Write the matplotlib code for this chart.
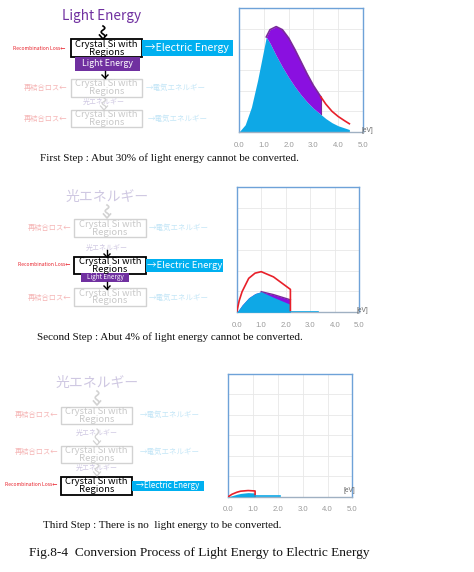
import matplotlib
matplotlib.use("Agg")
import matplotlib.pyplot as plt
import numpy as np

plt.rcParams['font.family'] = ['Noto Sans CJK JP', 'DejaVu Sans']

# ---- spectrum data (eV, relative value) ----
ev1 = [0, 0.25, 0.5, 0.75, 1.0, 1.1, 1.25, 1.5, 1.75, 2.0, 2.25, 2.5, 2.75, 3.0, 3.3, 3.5, 3.75, 4.0, 4.25, 4.45]
red1 = [0, 0.35, 1.2, 2.5, 4.0, 4.6, 4.95, 5.1, 4.95, 4.55, 4.0, 3.4, 2.8, 2.25, 1.7, 1.35, 1.0, 0.75, 0.55, 0.4]
blue1 = [0, 0.35, 1.2, 2.5, 4.0, 4.6, 4.3, 3.7, 3.15, 2.65, 2.2, 1.8, 1.45, 1.15, 0.85, 0.65, 0.45, 0.3, 0.2, 0.12]
gap1 = (1.1, 3.3)

ev2 = [0, 0.1, 0.22, 0.49, 0.75, 1.0, 1.5, 2.19]
red2 = [0, 0.55, 0.99, 1.63, 1.88, 1.95, 1.7, 1.1]
blue2 = [0, 0.15, 0.35, 0.7, 0.9, 0.99, 0.72, 0.38]
purple2 = [0, 0.15, 0.35, 0.7, 0.9, 0.99, 0.85, 0.6]
tail2 = [2.19, 3.3]

ev3 = [0, 0.15, 0.35, 0.5, 0.8, 1.08]
red3 = [0, 0.12, 0.22, 0.27, 0.3, 0.28]
blue3 = [0, 0.05, 0.12, 0.16, 0.2, 0.18]
tail3 = [1.08, 2.1]

xticks = [0, 1, 2, 3, 4, 5]
xticklabels = ["0.0", "1.0", "2.0", "3.0", "4.0", "5.0"]

captions = ["First Step : Abut 30% of light energy cannot be converted.",
            "Second Step : Abut 4% of light energy cannot be converted.",
            "Third Step : There is no  light energy to be converted."]
fig_title = "Fig.8-4  Conversion Process of Light Energy to Electric Energy"

RED = "#e8202a"
BLUE = "#0ea8e6"
PURPLE = "#8a10e0"
DPURPLE = "#7a2a9a"
BOXBLUE = "#00b0f0"
TITLEPURPLE = "#7030a0"
FADE_TXT = "#c9c9c9"
FADE_BOX = "#d2d2d2"
FADE_PINK = "#f5b5b5"
FADE_BLUE = "#c4e6f7"
FADE_LAV = "#cfc8e2"

W, H = 474, 572
fig = plt.figure(figsize=(W / 100, H / 100), dpi=100)
bg = fig.add_axes([0, 0, 1, 1])
bg.set_xlim(0, W)
bg.set_ylim(H, 0)
bg.axis("off")


def px_axes(x0, y0, x1, y1):
    return fig.add_axes([x0 / W, 1 - y1 / H, (x1 - x0) / W, (y1 - y0) / H])


def box(x0, y0, x1, y1, lines, fade=False, size=6.8):
    ec = FADE_BOX if fade else "black"
    tc = FADE_TXT if fade else "black"
    bg.add_patch(plt.Rectangle((x0, y0), x1 - x0, y1 - y0, fc="white", ec=ec,
                               lw=1.0 if fade else 1.3, zorder=3))
    bg.text((x0 + x1) / 2, (y0 + y1) / 2, "\n".join(lines), ha="center", va="center",
            fontsize=size, color=tc, linespacing=0.85, zorder=4)


def filled(x0, y0, x1, y1, text, fc, size, tc="white"):
    bg.add_patch(plt.Rectangle((x0, y0), x1 - x0, y1 - y0, fc=fc, ec="none", zorder=3))
    bg.text((x0 + x1) / 2, (y0 + y1) / 2, text, ha="center", va="center",
            fontsize=size, color=tc, zorder=4)


def wiggle(x, y0, y1, color, lw=1.2):
    t = np.linspace(0, 1, 30)
    yy = y0 + (y1 - y0 - 3) * t
    xx = x + 1.8 * np.sin(t * 2.5 * np.pi)
    bg.plot(xx, yy, color=color, lw=lw, zorder=5)
    bg.plot([x - 3.5, x, x + 3.5], [y1 - 4, y1, y1 - 4], color=color, lw=lw, zorder=5)


def down(x, y0, y1, color, lw=1.0):
    bg.plot([x, x], [y0, y1], color=color, lw=lw, zorder=5)
    bg.plot([x - 3, x, x + 3], [y1 - 3, y1, y1 - 3], color=color, lw=lw, zorder=5)


def side(xr, xl, y, fade):
    if fade:
        bg.text(xr, y, "再結合ロス←", ha="right", va="center", fontsize=5.2, color=FADE_PINK)
        bg.text(xl, y, "→電気エネルギー", ha="left", va="center", fontsize=5.4, color=FADE_BLUE)
    else:
        bg.text(xr, y, "Recombination Loss←", ha="right", va="center", fontsize=3.6, color=RED)


def ev_label(x, y):
    fig.text(x / W, 1 - y / H, "[eV]", ha="center", va="center", fontsize=4.8,
             color="#666666", family="Liberation Sans")


def chart(x0, y0, x1, y1):
    ax = px_axes(x0, y0, x1, y1)
    ax.set_xlim(0, 5)
    ax.set_ylim(0, 6)
    ax.set_xticks(xticks)
    ax.set_xticklabels(xticklabels, fontsize=5.6, color="#9a9a9a", family="Liberation Sans")
    ax.set_yticks(range(7))
    ax.set_yticklabels([])
    ax.tick_params(length=0, pad=7)
    ax.grid(color="#e8e8e8", lw=0.6)
    ax.set_axisbelow(True)
    for s in ax.spines.values():
        s.set_color("#6ea2d8")
        s.set_linewidth(1.0)
    ax.spines["bottom"].set_color("#9fb0c2")
    return ax


# ---------------- panel 1 ----------------
bg.text(102, 16, "Light Energy", ha="center", va="center", fontsize=9.8, color=TITLEPURPLE)
wiggle(103, 26, 39, "black")
box(70.7, 39.3, 141.7, 57.3, ["Crystal Si with", "Regions"])
filled(141.7, 40, 233, 56, "→Electric Energy", BOXBLUE, 7.6)
side(65, 0, 48, False)
filled(75, 57.3, 140, 70.7, "Light Energy", TITLEPURPLE, 6.3)
down(105, 70.7, 78, "black")
box(70.7, 79, 141.7, 96.7, ["Crystal Si with", "Regions"], fade=True)
side(67, 146, 87.5, True)
bg.text(104, 102, "光エネルギー", ha="center", va="center", fontsize=5, color=FADE_LAV)
wiggle(104, 98, 110, FADE_BOX, lw=0.9)
box(70.7, 110, 141.7, 127.3, ["Crystal Si with", "Regions"], fade=True)
side(67, 148, 118.5, True)

ax1 = chart(239, 8, 363, 132)
e1 = np.array(ev1)
ax1.fill_between(ev1, 0, blue1, color=BLUE, lw=0, zorder=2)
m = (e1 >= gap1[0]) & (e1 <= gap1[1])
ax1.fill_between(ev1, blue1, red1, where=m, color=PURPLE, lw=0, zorder=3)
ax1.plot(e1[m], np.array(red1)[m], color=DPURPLE, lw=1.2, zorder=4)
k = ev1.index(gap1[1])
ax1.plot([gap1[1], gap1[1]], [blue1[k], red1[k]], color=DPURPLE, lw=0.8, zorder=4)
ax1.plot(ev1[k:], red1[k:], color=RED, lw=1.2, zorder=4)
ev_label(367, 131)

# ---------------- panel 2 ----------------
bg.text(107, 197, "光エネルギー", ha="center", va="center", fontsize=10, color=FADE_LAV)
wiggle(107, 205, 218, FADE_BOX)
box(74, 219.3, 145.7, 237.3, ["Crystal Si with", "Regions"], fade=True)
side(71, 149, 228, True)
bg.text(107, 247.5, "光エネルギー", ha="center", va="center", fontsize=5, color=FADE_LAV)
down(107, 250, 257, "black")
box(74, 256.7, 145.7, 274.3, ["Crystal Si with", "Regions"])
side(70, 0, 265, False)
filled(145.7, 259, 223.3, 271.7, "→Electric Energy", BOXBLUE, 6.8)
filled(81, 272.7, 129.3, 282, "Light Energy", TITLEPURPLE, 4.5)
down(107, 282, 289, "black")
box(74, 288, 145.7, 306, ["Crystal Si with", "Regions"], fade=True)
side(71, 149, 298, True)

ax2 = chart(236.7, 187.3, 359.3, 312.3)
ax2.fill_between(ev2, 0, purple2, color=PURPLE, lw=0, zorder=2)
ax2.plot(ev2[5:], purple2[5:], color=DPURPLE, lw=1.0, zorder=3)
ax2.fill_between(ev2, 0, blue2, color=BLUE, lw=0, zorder=3)
ax2.plot(ev2 + [ev2[-1]], red2 + [0], color=RED, lw=1.2, zorder=4)
ax2.plot(tail2, [0.03, 0.03], color=BLUE, lw=1.2, zorder=4)
ev_label(362, 311)

# ---------------- panel 3 ----------------
bg.text(97, 383, "光エネルギー", ha="center", va="center", fontsize=10, color=FADE_LAV)
wiggle(97, 391, 405, FADE_BOX)
box(60.7, 406.7, 132.3, 424.3, ["Crystal Si with", "Regions"], fade=True)
side(58, 140, 415, True)
bg.text(97, 433, "光エネルギー", ha="center", va="center", fontsize=5, color=FADE_LAV)
wiggle(97, 429, 445, FADE_BOX, lw=0.9)
box(60.7, 445.7, 132.3, 463.3, ["Crystal Si with", "Regions"], fade=True)
side(58, 140, 452, True)
bg.text(97, 468, "光エネルギー", ha="center", va="center", fontsize=5, color=FADE_LAV)
wiggle(97, 464, 476, FADE_BOX, lw=0.9)
box(60.7, 476.7, 132.3, 495, ["Crystal Si with", "Regions"])
side(57, 0, 484, False)
filled(132.3, 480.7, 204, 490.7, "→Electric Energy", BOXBLUE, 5.8)

ax3 = chart(228.3, 374, 352.3, 496.7)
ax3.fill_between(ev3, 0, blue3, color=BLUE, lw=0, zorder=3)
ax3.plot(ev3 + [ev3[-1]], red3 + [0], color=RED, lw=1.2, zorder=4)
ax3.plot(tail3, [0.03, 0.03], color=BLUE, lw=1.2, zorder=4)
ev_label(349, 491)

# ---------------- captions ----------------
cap_xy = [(40, 158), (37, 337), (43, 525)]
for (cx, cy), c in zip(cap_xy, captions):
    bg.text(cx, cy, c, ha="left", va="center", fontsize=8.0, family="Liberation Serif",
            color="#111111")
bg.text(29, 553, fig_title, ha="left", va="center", fontsize=9.6, family="Liberation Serif",
        color="#111111")

fig.savefig("out.png", dpi=100)
